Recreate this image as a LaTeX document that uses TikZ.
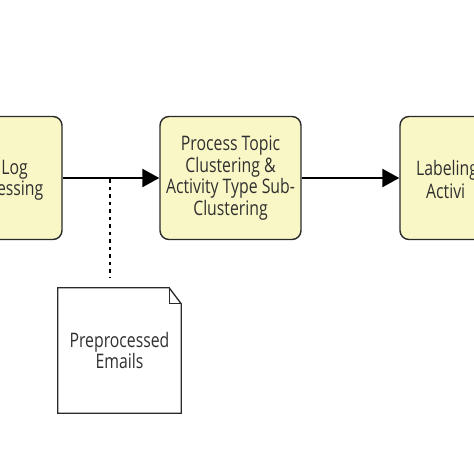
\documentclass[tikz,border=0pt]{standalone}
\usepackage{fontspec}
\setmainfont{Open Sans}[FakeStretch=0.79]
\usetikzlibrary{arrows.meta,calc}
\definecolor{boxfill}{HTML}{FAF7C6}
\definecolor{edge}{HTML}{2A2A2A}
\definecolor{txt}{HTML}{303030}
\tikzset{
  x=1pt,y=1pt,
  stage/.style={draw=edge,line width=1.4pt,fill=boxfill,rounded corners=9pt,minimum width=141pt,minimum height=123pt,inner sep=0pt},
  lbl/.style={text=txt,font=\fontsize{20}{21.5}\selectfont,align=center,inner sep=0pt},
  flow/.style={line width=2.6pt,-{Triangle[length=17pt,width=18pt]}},
  assoc/.style={line width=2.6pt,dash pattern=on 3.5pt off 4pt},
  docline/.style={draw=edge,line width=1.3pt}
}
\begin{document}
\begin{tikzpicture}
\useasboundingbox (0,0) rectangle (474,-474);
\clip (0,0) rectangle (474,-474);
\fill[white] (0,0) rectangle (474,-474);
% stages
\node[stage] (b1) at (-8.5,-178) {};
\node[stage] (b2) at (230.5,-178) {};
\node[stage] (b3) at (470.5,-178) {};
\node[lbl] (b2t) at (b2) {Process Topic\\Clustering \&\\Activity Type Sub-\\Clustering};
\node[lbl,anchor=east] (b1a) at (28,-170) {Log};
\node[lbl,anchor=east] (b1b) at (43.5,-191) {essing};
\node[lbl,anchor=west] (b3a) at (416,-170) {Labeling};
\node[lbl,anchor=west] (b3b) at (426,-191) {Activi};
% flows
\draw[flow] (b1) -- (b2);
\draw[flow] (b2) -- (b3);
% document
\node[lbl,minimum width=123pt,minimum height=125pt] (d) at (119.5,-350.5) {Preprocessed\\Emails};
\draw[docline,fill=white] (d.south west) -- (d.north west) -- ($(d.north east)+(-12,0)$) -- ($(d.north east)+(0,-16)$) -- (d.south east) -- cycle;
\draw[docline] ($(d.north east)+(-12,0)$) -- ($(d.north east)+(-12,-16)$) -- ($(d.north east)+(0,-16)$);
\node[lbl] at (d) {Preprocessed\\Emails};
% association
\coordinate (j) at (110,-179);
\draw[assoc] (j) -- (j |- d.north) [shorten >=10pt];
\end{tikzpicture}
\end{document}
